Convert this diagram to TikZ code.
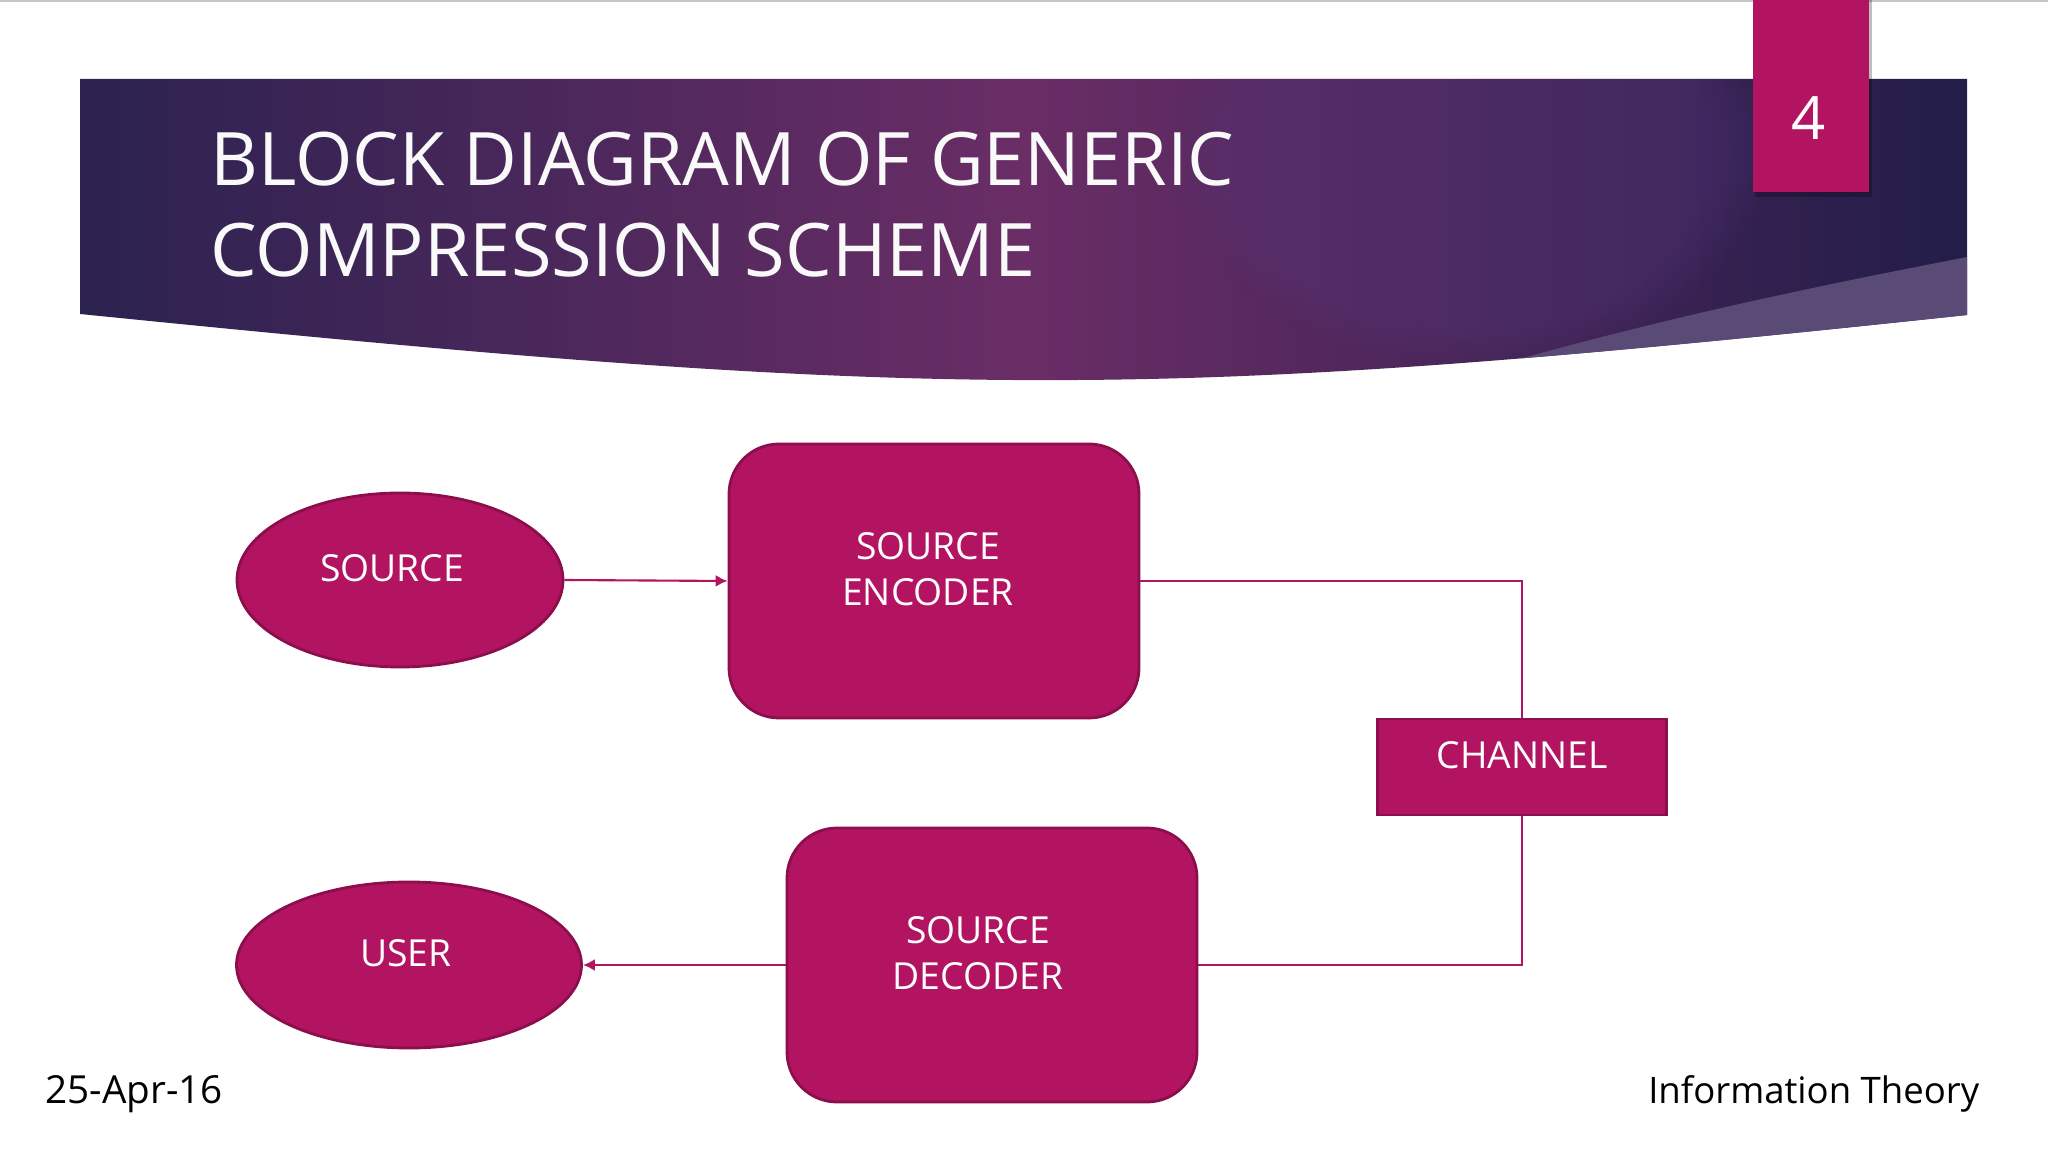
\documentclass[tikz,border=0pt]{standalone}
\usepackage{fontspec}
\setmainfont{Open Sans}
\usetikzlibrary{shapes.geometric,arrows.meta,fadings}

\definecolor{berry}{HTML}{B21462}
\definecolor{berrydark}{HTML}{8C0E4C}
\definecolor{bandleft}{HTML}{2B2250}
\definecolor{bandmid}{HTML}{6A2D66}
\definecolor{bandright}{HTML}{221D49}
\definecolor{wedge}{HTML}{5A4B76}
\definecolor{glow}{HTML}{54357A}

\begin{document}
\begin{tikzpicture}
[x=0.1mm, y=-0.1mm,
 blob/.style={ellipse,draw=berrydark,line width=0.8pt,fill=berry,inner sep=0pt},
 block/.style={rectangle,rounded corners=5mm,draw=berrydark,line width=0.8pt,fill=berry,
   minimum width=41mm,minimum height=27.4mm},
 chan/.style={rectangle,draw=berrydark,line width=0.8pt,fill=berry,
   minimum width=28.9mm,minimum height=9.6mm},
 txt/.style={text=white,align=center,font=\fontsize{10.6}{13}\selectfont,yshift=1.2mm},
 wire/.style={berry,line width=0.6pt},
 arr/.style={wire,-{Latex[length=1.2mm,width=1.2mm]}}]

\useasboundingbox (0,0) rectangle (2048,1152);
\fill[white] (0,0) rectangle (2048,1152);
\draw[gray!45,line width=0.6pt] (0,1) -- (2048,1);

% title band
\begin{scope}
\clip (80,79) -- (1967,79) -- (1967,315) .. controls (1150,402) and (950,402) .. (80,314) -- cycle;
\shade[left color=bandleft, right color=bandright, middle color=bandmid] (80,79) rectangle (1967,420);
\fill[glow, fill opacity=0.35, path fading=circle with fuzzy edge 20 percent] (1470,150) ellipse (300 and 220);
\fill[wedge] (1967,257) .. controls (1850,280) and (1650,318) .. (1430,385) -- (1967,420) -- cycle;
\end{scope}

% page number
\fill[black,opacity=0.25] (1755,0) rectangle (1872,197);
\fill[berry] (1753,0) rectangle (1869,192);
\node (num) at (1809,118) [text=white,font=\fontsize{17}{20}\selectfont] {4};

\node (title) at (210,131) [anchor=north west,inner sep=0pt,align=left,text=white!95!gray,
  font=\fontsize{21}{26.1}\selectfont] {BLOCK DIAGRAM OF GENERIC\\COMPRESSION SCHEME};

% blocks
\node (src) at (400,580) [blob,minimum width=32.6mm,minimum height=17.4mm,
  label={[txt,xshift=-0.8mm]center:SOURCE}] {};
\node (enc) at (934,581) [block,label={[txt,xshift=-0.6mm]center:{SOURCE\\ENCODER}}] {};
\node (ch) at (1522,767) [chan,label={[txt]center:CHANNEL}] {};
\node (dec) at (992,965) [block,label={[txt,xshift=-1.4mm]center:{SOURCE\\DECODER}}] {};
\node (usr) at (409,965) [blob,minimum width=34.5mm,minimum height=16.6mm,
  label={[txt,xshift=-0.3mm]center:USER}] {};

\draw[arr] (src.east) -- (enc.west);
\draw[wire] (enc.east) -| (ch.north);
\draw[wire] (ch.south) |- (dec.east);
\draw[arr] (dec.west) -- (usr.east);

% footer
\node (date) at (45,1104) [anchor=base west,inner sep=0pt,font=\fontsize{11}{13}\selectfont] {25-Apr-16};
\node (topic) at (1980,1104) [anchor=base east,inner sep=0pt,font=\fontsize{10.4}{13}\selectfont] {Information Theory};
\end{tikzpicture}
\end{document}
